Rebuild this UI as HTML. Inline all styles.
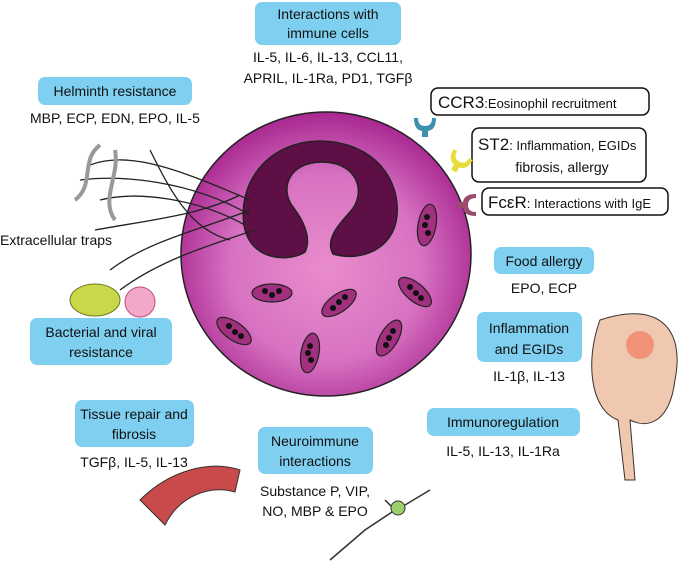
<!DOCTYPE html>
<html><head><meta charset="utf-8"><style>
body{margin:0;background:#fff}
svg{display:block}
text{font-family:"Liberation Sans Narrow","Liberation Sans",sans-serif;font-size:14px;fill:#111}
.b{fill:#7fd0f0}
.w{fill:#fff;stroke:#111;stroke-width:1.5}
</style></head><body>
<svg width="685" height="565" viewBox="0 0 685 565" xmlns="http://www.w3.org/2000/svg">
<defs>
<radialGradient id="cg" cx="0.5" cy="0.55" r="0.55">
<stop offset="0" stop-color="#e98ccc"/><stop offset="0.6" stop-color="#d772c2"/><stop offset="1" stop-color="#a8278f"/>
</radialGradient>
</defs>
<rect class="b" x="255" y="2" width="146" height="43" rx="7"/>
<text x="328" y="19" text-anchor="middle">Interactions with</text>
<text x="328" y="38" text-anchor="middle">immune cells</text>
<text x="328" y="62" text-anchor="middle">IL-5, IL-6, IL-13, CCL11,</text>
<text x="328" y="83" text-anchor="middle">APRIL, IL-1Ra, PD1, TGFβ</text>

<rect class="b" x="38" y="77" width="154" height="28" rx="7"/>
<text x="115" y="96" text-anchor="middle">Helminth resistance</text>
<text x="30" y="123">MBP, ECP, EDN, EPO, IL-5</text>

<rect class="w" x="431" y="88" width="218" height="27" rx="7"/>
<text x="438" y="108"><tspan font-size="17">CCR3</tspan><tspan font-size="13">:Eosinophil recruitment</tspan></text>
<rect class="w" x="472" y="128" width="174" height="54" rx="7"/>
<text x="478" y="150"><tspan font-size="17">ST2</tspan><tspan font-size="13">: Inflammation, EGIDs</tspan></text>
<text x="562" y="172" text-anchor="middle" font-size="13">fibrosis, allergy</text>
<rect class="w" x="482" y="188" width="186" height="27" rx="7"/>
<text x="488" y="208"><tspan font-size="17">FcεR</tspan><tspan font-size="13">: Interactions with IgE</tspan></text>

<text x="0" y="245">Extracellular traps</text>

<rect class="b" x="494" y="247" width="100" height="27" rx="7"/>
<text x="544" y="266" text-anchor="middle">Food allergy</text>
<text x="544" y="293" text-anchor="middle">EPO, ECP</text>

<rect class="b" x="477" y="312" width="105" height="50" rx="7"/>
<text x="529" y="333" text-anchor="middle">Inflammation</text>
<text x="529" y="354" text-anchor="middle">and EGIDs</text>
<text x="529" y="381" text-anchor="middle">IL-1β, IL-13</text>

<rect class="b" x="30" y="318" width="142" height="47" rx="7"/>
<text x="101" y="337" text-anchor="middle">Bacterial and viral</text>
<text x="101" y="357" text-anchor="middle">resistance</text>

<rect class="b" x="75" y="400" width="119" height="47" rx="7"/>
<text x="134" y="419" text-anchor="middle">Tissue repair and</text>
<text x="134" y="439" text-anchor="middle">fibrosis</text>
<text x="134" y="467" text-anchor="middle">TGFβ, IL-5, IL-13</text>

<rect class="b" x="258" y="427" width="115" height="47" rx="7"/>
<text x="315" y="446" text-anchor="middle">Neuroimmune</text>
<text x="315" y="466" text-anchor="middle">interactions</text>
<text x="315" y="496" text-anchor="middle">Substance P, VIP,</text>
<text x="315" y="516" text-anchor="middle">NO, MBP &amp; EPO</text>

<rect class="b" x="427" y="408" width="153" height="28" rx="7"/>
<text x="503" y="427" text-anchor="middle">Immunoregulation</text>
<text x="503" y="456" text-anchor="middle">IL-5, IL-13, IL-1Ra</text>

<!-- cell -->
<ellipse cx="326" cy="254" rx="145" ry="142" fill="url(#cg)" stroke="#222" stroke-width="1.5"/>
<path d="M305 252 C290 262 250 262 244 225 C238 185 265 142 320 141 C375 142 400 180 397 215 C394 250 360 262 333 254 C325 240 338 225 350 212 C366 195 360 163 323 162 C287 162 280 190 293 207 C303 220 312 238 305 252 Z" fill="#5e0f45" stroke="#222" stroke-width="1.5"/>
<g fill="#a1307f" stroke="#222" stroke-width="1.2">
<ellipse cx="272" cy="293" rx="20" ry="9"/>
<ellipse cx="339" cy="303" rx="20" ry="9" transform="rotate(-35 339 303)"/>
<ellipse cx="234" cy="331" rx="20" ry="9" transform="rotate(35 234 331)"/>
<ellipse cx="310" cy="353" rx="20" ry="9" transform="rotate(-80 310 353)"/>
<ellipse cx="389" cy="338" rx="20" ry="9" transform="rotate(-60 389 338)"/>
<ellipse cx="415" cy="292" rx="20" ry="9" transform="rotate(40 415 292)"/>
<ellipse cx="427" cy="225" rx="21" ry="9" transform="rotate(-80 427 225)"/>
</g>
<g fill="#111">
<circle cx="265" cy="291" r="3"/><circle cx="272" cy="295" r="3"/><circle cx="279" cy="291" r="3"/>
<circle cx="333" cy="308" r="3"/><circle cx="339" cy="302" r="3"/><circle cx="345" cy="297" r="3"/>
<circle cx="229" cy="326" r="3"/><circle cx="235" cy="332" r="3"/><circle cx="241" cy="336" r="3"/>
<circle cx="310" cy="346" r="3"/><circle cx="308" cy="353" r="3"/><circle cx="311" cy="360" r="3"/>
<circle cx="393" cy="331" r="3"/><circle cx="389" cy="338" r="3"/><circle cx="386" cy="345" r="3"/>
<circle cx="410" cy="287" r="3"/><circle cx="416" cy="293" r="3"/><circle cx="421" cy="298" r="3"/>
<circle cx="427" cy="217" r="3"/><circle cx="425" cy="225" r="3"/><circle cx="428" cy="233" r="3"/>
</g>
<path d="M418 118 q0 8 7 8 q7 0 7-8 l4 0 q0 12-8 13 l0 6 -6 0 0-6 q-8-1-8-13z" fill="#3f8fb0"/>
<path d="M452 154 q0 8 7 8 q7 0 7-8 l4 0 q0 12-8 13 l0 6 -6 0 0-6 q-8-1-8-13z" fill="#e6dd3a" transform="rotate(30 460 162)"/>
<path d="M460 198 q0 8 7 8 q7 0 7-8 l4 0 q0 12-8 13 l0 6 -6 0 0-6 q-8-1-8-13z" fill="#9c4b6e" transform="rotate(90 468 206)"/>
<g fill="none" stroke="#222" stroke-width="1.3">
<path d="M90 165 C130 150 180 170 250 200"/><path d="M80 180 C120 175 190 180 250 215"/>
<path d="M100 200 C140 190 200 200 245 225"/><path d="M110 270 C150 240 200 230 250 210"/>
<path d="M120 290 C160 260 210 245 255 230"/><path d="M95 230 C150 220 200 215 240 195"/>
<path d="M150 150 C170 190 190 230 230 240"/>
</g>
<g fill="none" stroke="#999" stroke-width="4">
<path d="M100 145 C80 160 95 185 75 200"/><path d="M115 150 C120 175 100 200 115 220"/>
</g>
<ellipse cx="95" cy="300" rx="25" ry="16" fill="#c9d84a" stroke="#6a7a20"/>
<circle cx="140" cy="302" r="15" fill="#f2a8c8" stroke="#c24a80"/>
<path d="M600 320 C660 300 685 330 675 380 C670 420 650 430 630 420 L635 480 L625 480 L618 420 C590 410 585 360 600 320Z" fill="#f0c8b0" stroke="#333"/>
<circle cx="640" cy="345" r="14" fill="#f07050" opacity="0.6"/>
<path d="M140 500 C170 470 210 460 240 470 L235 492 C210 485 180 495 165 525 Z" fill="#c84a4a" stroke="#333"/>
<path d="M330 560 L365 530 L395 510 L405 505 M405 505 L430 490 M395 510 L385 500" stroke="#333" fill="none" stroke-width="1.5"/>
<circle cx="398" cy="508" r="7" fill="#9cd06a" stroke="#333"/>
</svg>
</body></html>
